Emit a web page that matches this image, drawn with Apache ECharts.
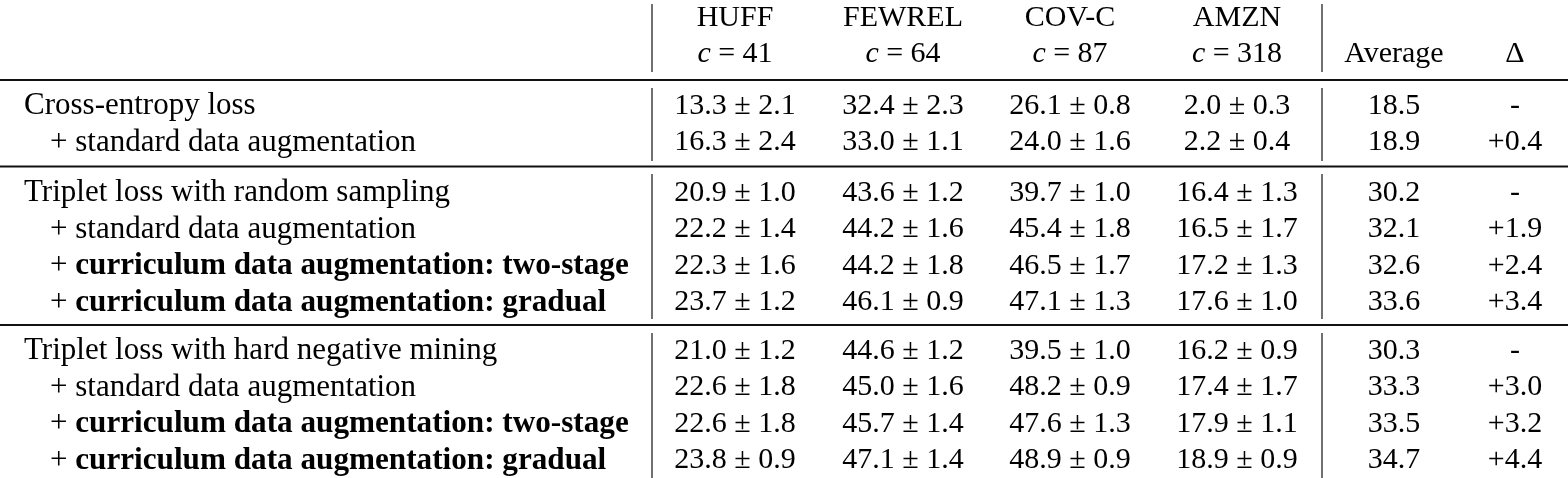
<!DOCTYPE html>
<html>
<head>
<meta charset="utf-8">
<script src="https://cdn.jsdelivr.net/npm/echarts@6/dist/echarts.min.js"></script>
<style>
html,body{margin:0;padding:0;background:#fff;}
#chart{width:1568px;height:478px;}
</style>
</head>
<body>
<div id="chart"></div>
<script>
// ---------- data ----------
const datasets = ['HUFF', 'FEWREL', 'COV-C', 'AMZN'];
const classCounts = [41, 64, 87, 318];
const extraHeaders = ['Average', 'Δ'];

const rowLabels = [
  'Cross-entropy loss',
  'standard data augmentation',
  'Triplet loss with random sampling',
  'standard data augmentation',
  'curriculum data augmentation: two-stage',
  'curriculum data augmentation: gradual',
  'Triplet loss with hard negative mining',
  'standard data augmentation',
  'curriculum data augmentation: two-stage',
  'curriculum data augmentation: gradual'
];
const rowIsSub  = [false, true, false, true, true, true, false, true, true, true];
const rowIsBold = [false, false, false, false, true, true, false, false, true, true];

const huffMean   = [13.3, 16.3, 20.9, 22.2, 22.3, 23.7, 21.0, 22.6, 22.6, 23.8];
const huffStd    = [2.1, 2.4, 1.0, 1.4, 1.6, 1.2, 1.2, 1.8, 1.8, 0.9];
const fewrelMean = [32.4, 33.0, 43.6, 44.2, 44.2, 46.1, 44.6, 45.0, 45.7, 47.1];
const fewrelStd  = [2.3, 1.1, 1.2, 1.6, 1.8, 0.9, 1.2, 1.6, 1.4, 1.4];
const covcMean   = [26.1, 24.0, 39.7, 45.4, 46.5, 47.1, 39.5, 48.2, 47.6, 48.9];
const covcStd    = [0.8, 1.6, 1.0, 1.8, 1.7, 1.3, 1.0, 0.9, 1.3, 0.9];
const amznMean   = [2.0, 2.2, 16.4, 16.5, 17.2, 17.6, 16.2, 17.4, 17.9, 18.9];
const amznStd    = [0.3, 0.4, 1.3, 1.7, 1.3, 1.0, 0.9, 1.7, 1.1, 0.9];
const averages   = [18.5, 18.9, 30.2, 32.1, 32.6, 33.6, 30.3, 33.3, 33.5, 34.7];
const deltas     = [null, 0.4, null, 1.9, 2.4, 3.4, null, 3.0, 3.2, 4.4];

// ---------- layout (table geometry) ----------
const W = 1568, H = 478;
const labelX = 24, subLabelX = 50;
const colX = [735, 903, 1070, 1237, 1394, 1515];
const headY1 = 18, headY2 = 54;
const rowY = [106, 142.5, 193, 229.5, 266, 302.5, 351, 387.5, 424, 460.5];
const ruleY = [80, 166.5, 325];
const vLineX = [652, 1322];
const vSegs = [[4, 72], [88, 161], [174, 319], [333, 478]];

const FONT = "'Liberation Serif', 'Times New Roman', serif";
const FS = 30;       // numbers & headers
const FS_LABEL = 31; // row labels
const FS_BOLD = 31.2;
const INK = '#000';

const means = [huffMean, fewrelMean, covcMean, amznMean];
const stds = [huffStd, fewrelStd, covcStd, amznStd];

// build cell items: [x, y, kind, text, align]
const items = [];
datasets.forEach((d, i) => {
  items.push([colX[i], headY1, 'plain', d, 'center']);
  items.push([colX[i], headY2, 'cval', String(classCounts[i]), 'center']);
});
items.push([colX[4], headY2, 'plain', extraHeaders[0], 'center']);
items.push([colX[5], headY2, 'plain', extraHeaders[1], 'center']);
rowLabels.forEach((lab, r) => {
  const x = rowIsSub[r] ? subLabelX : labelX;
  const kind = rowIsSub[r] ? (rowIsBold[r] ? 'subbold' : 'sub') : 'label';
  items.push([x, rowY[r], kind, lab, 'left']);
  for (let c = 0; c < 4; c++) {
    items.push([colX[c], rowY[r], 'plain', means[c][r].toFixed(1) + ' ± ' + stds[c][r].toFixed(1), 'center']);
  }
  items.push([colX[4], rowY[r], 'plain', averages[r].toFixed(1), 'center']);
  items.push([colX[5], rowY[r], 'plain', deltas[r] == null ? '-' : '+' + deltas[r].toFixed(1), 'center']);
});

const lineItems = [];
ruleY.forEach(y => lineItems.push([0, y, W, y, 2.2]));
vLineX.forEach(x => vSegs.forEach(s => lineItems.push([x, s[0], x, s[1], 1.2])));

const baseRich = {
  n: { fontFamily: FONT, fontSize: FS, fontWeight: 'normal', fill: INK },
  l: { fontFamily: FONT, fontSize: FS_LABEL, fontWeight: 'normal', fill: INK },
  b: { fontFamily: FONT, fontSize: FS_BOLD, fontWeight: 'bold', fill: INK },
  i: { fontFamily: FONT, fontSize: FS, fontStyle: 'italic', fill: INK }
};

const chart = echarts.init(document.getElementById('chart'), null, { renderer: 'canvas' });
chart.setOption({
  animation: false,
  backgroundColor: '#fff',
  grid: { left: 0, right: 0, top: 0, bottom: 0 },
  xAxis: { type: 'value', min: 0, max: W, show: false },
  yAxis: { type: 'value', min: 0, max: H, inverse: true, show: false },
  series: [
    {
      type: 'custom',
      coordinateSystem: 'cartesian2d',
      data: lineItems,
      encode: { x: [0, 2], y: [1, 3] },
      silent: true,
      renderItem: function (params, api) {
        const p1 = api.coord([api.value(0), api.value(1)]);
        const p2 = api.coord([api.value(2), api.value(3)]);
        return {
          type: 'line',
          shape: { x1: p1[0], y1: p1[1], x2: p2[0], y2: p2[1] },
          style: { stroke: '#111', lineWidth: api.value(4) }
        };
      }
    },
    {
      type: 'custom',
      coordinateSystem: 'cartesian2d',
      data: items,
      encode: { x: 0, y: 1 },
      silent: true,
      renderItem: function (params, api) {
        const it = items[params.dataIndex];
        const p = api.coord([it[0], it[1]]);
        let text;
        if (it[2] === 'cval') text = '{i|c}{n| = ' + it[3] + '}';
        else if (it[2] === 'label') text = '{l|' + it[3] + '}';
        else if (it[2] === 'sub') text = '{l|+ ' + it[3] + '}';
        else if (it[2] === 'subbold') text = '{l|+ }{b|' + it[3] + '}';
        else text = '{n|' + it[3] + '}';
        return {
          type: 'text',
          x: p[0], y: p[1],
          style: {
            text: text,
            rich: baseRich,
            font: FS + 'px ' + FONT,
            fill: INK,
            align: it[4],
            verticalAlign: 'middle'
          }
        };
      }
    }
  ]
});
</script>
</body>
</html>
